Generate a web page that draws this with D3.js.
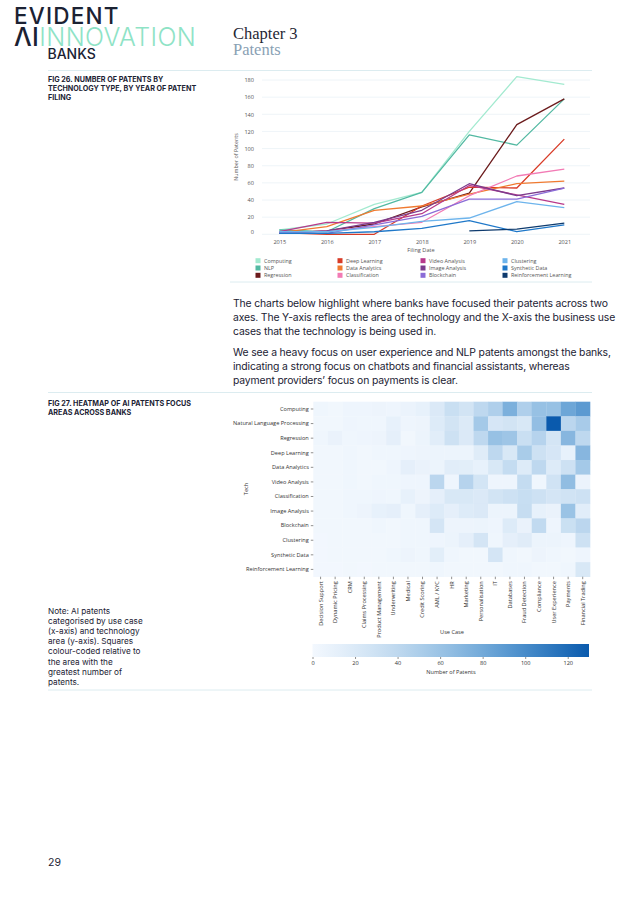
<!DOCTYPE html>
<html lang="en">
<head>
<meta charset="UTF-8">
<title>Chapter 3 - Patents</title>
<script src="https://cdnjs.cloudflare.com/ajax/libs/d3/7.8.5/d3.min.js"></script>
<style>
    html, body { margin: 0; padding: 0; background: #fff; }
    svg { display: block; }
    .sans { font-family: Inter, "Liberation Sans", sans-serif; }
    .plot { font-family: "Open Sans", "Liberation Sans", sans-serif; fill: #444; }
</style>
</head>
<body>
<div id="page"></div>
<script>
    // ---- line chart data (FIG 26) ----
    const years = [2015, 2016, 2017, 2018, 2019, 2020, 2021];
    const techNames = ["Computing", "NLP", "Regression", "Deep Learning", "Data Analytics", "Classification",
        "Video Analysis", "Image Analysis", "Blockchain", "Clustering", "Synthetic Data", "Reinforcement Learning"];
    const techColors = ["#a3ead0", "#52b9a2", "#6b1b1c", "#d83b27", "#f07a30", "#f27bb5",
        "#b8398b", "#7c3b8d", "#8b6cd7", "#6db4ec", "#1f78c9", "#0e3b6e"];
    const computing = [5, 12, 35, 49, 120, 184, 175];
    const nlp = [5, 3, 30, 49, 116, 104, 158];
    const regression = [1, 4, 12, 32, 48, 128, 158];
    const deepLearning = [2, 0, 0, 33, 55, 54, 111];
    const dataAnalytics = [2, 9, 28, 33, 47, 59, 62];
    const classification = [2, 4, 9, 14, 45, 68, 76];
    const videoAnalysis = [3, 14, 13, 24, 57, 46, 35];
    const imageAnalysis = [1, 4, 14, 28, 59, 45, 54];
    const blockchain = [2, 1, 11, 21, 41, 41, 54];
    const clustering = [3, 3, 8, 15, 19, 38, 31];
    const syntheticData = [1, 1, 3, 7, 16, 3, 11];
    const reinforcement = [null, null, null, null, 4, 6, 13];
    const lineSeries = [computing, nlp, regression, deepLearning, dataAnalytics, classification,
        videoAnalysis, imageAnalysis, blockchain, clustering, syntheticData, reinforcement];
    // legend is laid out column by column
    const legendOrder = ["Computing", "NLP", "Regression", "Deep Learning", "Data Analytics", "Classification",
        "Video Analysis", "Image Analysis", "Blockchain", "Clustering", "Synthetic Data", "Reinforcement Learning"];
    const yTicks = [0, 20, 40, 60, 80, 100, 120, 140, 160, 180];

    // ---- heatmap data (FIG 27) ----
    const heatRows = ["Computing", "Natural Language Processing", "Regression", "Deep Learning", "Data Analytics",
        "Video Analysis", "Classification", "Image Analysis", "Blockchain", "Clustering", "Synthetic Data",
        "Reinforcement Learning"];
    const useCases = ["Decision Support", "Dynamic Pricing", "CRM", "Claims Processing", "Product Management",
        "Underwriting", "Medical", "Credit Scoring", "AML / KYC", "HR", "Marketing", "Personalisation", "IT",
        "Databases", "Fraud Detection", "Compliance", "User Experience", "Payments", "Financial Trading"];
    const heatValues = [
        [3, 2, 4, 4, 5, 4, 7, 10, 20, 33, 27, 40, 49, 75, 49, 62, 62, 82, 90],
        [2, 2, 4, 3, 3, 10, 4, 5, 18, 27, 19, 55, 24, 27, 22, 64, 130, 42, 53],
        [3, 8, 3, 4, 5, 12, 2, 6, 15, 30, 20, 40, 62, 58, 33, 45, 25, 70, 40],
        [2, 2, 3, 2, 3, 3, 4, 5, 6, 6, 6, 17, 40, 22, 52, 30, 24, 10, 70],
        [2, 2, 3, 2, 2, 4, 12, 8, 6, 15, 14, 10, 22, 36, 18, 40, 18, 30, 55],
        [2, 2, 3, 2, 3, 3, 4, 4, 42, 4, 45, 26, 4, 4, 36, 3, 28, 65, 7],
        [2, 2, 3, 3, 4, 3, 10, 5, 12, 22, 22, 20, 27, 30, 34, 30, 25, 28, 30],
        [2, 2, 3, 5, 10, 12, 3, 12, 18, 12, 18, 20, 6, 6, 35, 10, 8, 60, 15],
        [2, 2, 2, 2, 3, 2, 3, 3, 25, 5, 5, 6, 4, 18, 8, 38, 4, 32, 42],
        [1, 2, 2, 2, 2, 2, 3, 3, 4, 6, 12, 25, 3, 12, 16, 6, 6, 4, 30],
        [1, 2, 2, 2, 2, 3, 5, 3, 14, 3, 2, 2, 25, 3, 2, 5, 3, 2, 4],
        [1, 1, 2, 1, 2, 2, 2, 2, 3, 2, 2, 2, 2, 3, 3, 2, 2, 3, 22]
    ];
    const colorTicks = [0, 20, 40, 60, 80, 100, 120];

    const W = 638, H = 902;
    const svg = d3.select("#page").append("svg").attr("width", W).attr("height", H);

    // ---------- header ----------
    const logo = svg.append("g").attr("class", "sans");
    logo.append("text").attr("x", 14).attr("y", 24)
        .attr("font-size", 22.5).attr("font-weight", 500).attr("fill", "#1b2233")
        .attr("letter-spacing", 1.2).text("EVIDENT");
    const l2 = logo.append("text").attr("x", 14).attr("y", 45.5)
        .attr("font-size", 25).attr("font-weight", 300).attr("letter-spacing", 0.4);
    l2.append("tspan").attr("fill", "#1b2233").attr("font-weight", 500).text("ΛI");
    l2.append("tspan").attr("fill", "#8fe3c6").text("INNOVATION");
    logo.append("text").attr("x", 47.5).attr("y", 59)
        .attr("font-size", 14).attr("font-weight", 500).attr("fill", "#1b2233").text("BANKS");

    svg.append("text").attr("x", 233).attr("y", 39)
        .attr("font-family", "'Liberation Serif', serif")
        .attr("font-size", 16.5).attr("fill", "#1f2735").text("Chapter 3");
    svg.append("text").attr("x", 233).attr("y", 55)
        .attr("font-family", "'Liberation Serif', serif")
        .attr("font-size", 16.5).attr("fill", "#8aa1b4").text("Patents");

    const rule = (x1, x2, y) => svg.append("line")
        .attr("x1", x1).attr("x2", x2).attr("y1", y).attr("y2", y)
        .attr("stroke", "#dcecf0").attr("stroke-width", 1);
    rule(48, 592, 70.5);

    const figLabel = (lines, y0) => {
        const t = svg.append("text").attr("class", "sans")
            .attr("font-size", 7.2).attr("font-weight", 700).attr("fill", "#1b2233");
        lines.forEach((s, i) => t.append("tspan").attr("x", 48).attr("y", y0 + i * 8.8).text(s));
    };
    figLabel(["FIG 26. NUMBER OF PATENTS BY", "TECHNOLOGY TYPE, BY YEAR OF PATENT", "FILING"], 82);

    // ---------- FIG 26 line chart ----------
    const x = d3.scalePoint().domain(years).range([279.3, 564.3]);
    const y = d3.scaleLinear().domain([0, 180]).range([234.3, 80]);
    const lc = svg.append("g").attr("class", "plot");

    lc.append("g").selectAll("line").data(yTicks).join("line")
        .attr("x1", 262).attr("x2", 590)
        .attr("y1", d => y(d)).attr("y2", d => y(d))
        .attr("stroke", "#eaf1f6").attr("stroke-width", 0.8);

    const yAxis = lc.append("g").attr("transform", "translate(262,0)")
        .call(d3.axisLeft(y).tickValues(yTicks).tickSize(0).tickPadding(8));
    yAxis.select(".domain").remove();
    yAxis.selectAll("text").attr("font-size", 5.6).attr("fill", "#555")
        .attr("font-family", "'Open Sans', sans-serif")
        .attr("dy", d => d === 0 ? "-0.2em" : "0.32em");

    const xAxis = lc.append("g").attr("transform", "translate(0,236)")
        .call(d3.axisBottom(x).tickSize(0).tickPadding(4).tickFormat(d3.format("d")));
    xAxis.select(".domain").remove();
    xAxis.selectAll("text").attr("font-size", 5.6).attr("fill", "#555")
        .attr("font-family", "'Open Sans', sans-serif");

    lc.append("text").attr("transform", "translate(238,157) rotate(-90)")
        .attr("text-anchor", "middle").attr("font-size", 5.4).attr("fill", "#555")
        .text("Number of Patents");
    lc.append("text").attr("x", 421).attr("y", 252)
        .attr("text-anchor", "middle").attr("font-size", 5.6).attr("fill", "#555")
        .text("Filing Date");

    const line = d3.line()
        .defined(d => d != null)
        .x((d, i) => x(years[i]))
        .y(d => y(d));
    lc.append("g").selectAll("path").data(lineSeries).join("path")
        .attr("d", d => line(d))
        .attr("fill", "none")
        .attr("stroke", (d, i) => techColors[i])
        .attr("stroke-width", 1.3)
        .attr("stroke-linejoin", "round");

    // legend: 4 columns x 3 rows
    const legCols = [258, 340, 423, 505];
    const legRows = [260.7, 268, 275.3];
    const leg = lc.append("g").selectAll("g").data(legendOrder).join("g")
        .attr("transform", (d, i) => `translate(${legCols[Math.floor(i / 3)]},${legRows[i % 3]})`);
    leg.append("rect").attr("x", -2.5).attr("y", -2.5).attr("width", 5).attr("height", 5)
        .attr("fill", d => techColors[techNames.indexOf(d)]);
    leg.append("text").attr("x", 6).attr("dy", "0.35em")
        .attr("font-size", 5.4).attr("fill", "#555").text(d => d);

    rule(230, 592, 282);

    // ---------- paragraph ----------
    const para = (lines, y0) => {
        const t = svg.append("text").attr("class", "sans")
            .attr("font-size", 10.4).attr("fill", "#1b2233").attr("letter-spacing", -0.15);
        lines.forEach((s, i) => t.append("tspan").attr("x", 233).attr("y", y0 + i * 14).text(s));
    };
    para(["The charts below highlight where banks have focused their patents across two",
        "axes. The Y-axis reflects the area of technology and the X-axis the business use",
        "cases that the technology is being used in."], 307);
    para(["We see a heavy focus on user experience and NLP patents amongst the banks,",
        "indicating a strong focus on chatbots and financial assistants, whereas",
        "payment providers\u2019 focus on payments is clear."], 356);

    rule(48, 592, 392.5);
    figLabel(["FIG 27. HEATMAP OF AI PATENTS FOCUS", "AREAS ACROSS BANKS"], 406);

    // ---------- FIG 27 heatmap ----------
    const hx = d3.scaleBand().domain(useCases).range([313.3, 590]);
    const hy = d3.scaleBand().domain(heatRows).range([401.7, 576.7]);
    const color = d3.scaleSequential(t => d3.interpolateRgbBasis(
        ["#f3f8fe", "#cde1f3", "#93bfe3", "#4b90cd", "#0a5aad"])(t)).domain([0, 130]);

    const hm = svg.append("g").attr("class", "plot");
    const cells = [];
    heatValues.forEach((row, r) => row.forEach((v, c) => cells.push({ r: heatRows[r], c: useCases[c], v })));
    hm.append("g").selectAll("rect").data(cells).join("rect")
        .attr("x", d => hx(d.c)).attr("y", d => hy(d.r))
        .attr("width", hx.bandwidth() + 0.3).attr("height", hy.bandwidth() + 0.3)
        .attr("fill", d => color(d.v));

    const hyAxis = hm.append("g").attr("transform", "translate(313.3,0)")
        .call(d3.axisLeft(hy).tickSize(2.5).tickPadding(2));
    hyAxis.select(".domain").remove();
    hyAxis.selectAll("line").attr("stroke", "#444").attr("stroke-width", 0.6);
    hyAxis.selectAll("text").attr("font-size", 5.6).attr("fill", "#333")
        .attr("font-family", "'Open Sans', sans-serif");

    const hxAxis = hm.append("g").attr("transform", "translate(0,576.7)")
        .call(d3.axisBottom(hx).tickSize(2.5).tickPadding(2));
    hxAxis.select(".domain").remove();
    hxAxis.selectAll("line").attr("stroke", "#444").attr("stroke-width", 0.6);
    hxAxis.selectAll("text").attr("font-size", 5.6).attr("fill", "#333")
        .attr("font-family", "'Open Sans', sans-serif")
        .attr("transform", "rotate(-90)")
        .attr("text-anchor", "end")
        .attr("x", -4.5).attr("y", 0).attr("dy", "0.35em");

    hm.append("text").attr("transform", "translate(248,489) rotate(-90)")
        .attr("text-anchor", "middle").attr("font-size", 5.6).attr("fill", "#333").text("Tech");
    hm.append("text").attr("x", 452).attr("y", 634)
        .attr("text-anchor", "middle").attr("font-size", 5.6).attr("fill", "#333").text("Use Case");

    // colorbar
    const cbx = d3.scaleLinear().domain([0, 130]).range([312.5, 589]);
    const grad = svg.append("defs").append("linearGradient").attr("id", "cb")
        .attr("x1", "0%").attr("x2", "100%");
    d3.range(0, 1.0001, 0.1).forEach(t => grad.append("stop")
        .attr("offset", `${t * 100}%`).attr("stop-color", color(t * 130)));
    hm.append("rect").attr("x", cbx(0)).attr("y", 644).attr("width", cbx(130) - cbx(0)).attr("height", 13)
        .attr("fill", "url(#cb)");
    const cbAxis = hm.append("g").attr("transform", "translate(0,657)")
        .call(d3.axisBottom(cbx).tickValues(colorTicks).tickSize(2).tickPadding(2));
    cbAxis.select(".domain").remove();
    cbAxis.selectAll("line").attr("stroke", "#444").attr("stroke-width", 0.6);
    cbAxis.selectAll("text").attr("font-size", 5.6).attr("fill", "#333")
        .attr("font-family", "'Open Sans', sans-serif");
    hm.append("text").attr("x", 451).attr("y", 674)
        .attr("text-anchor", "middle").attr("font-size", 5.6).attr("fill", "#333").text("Number of Patents");

    // note
    const note = svg.append("text").attr("class", "sans")
        .attr("font-size", 8.2).attr("fill", "#1b2233");
    ["Note: AI patents", "categorised by use case", "(x-axis) and technology", "area (y-axis). Squares",
        "colour-coded relative to", "the area with the", "greatest number of", "patents."]
        .forEach((s, i) => note.append("tspan").attr("x", 48).attr("y", 614 + i * 10.1).text(s));

    rule(48, 592, 690);

    svg.append("text").attr("class", "sans").attr("x", 48).attr("y", 866)
        .attr("font-size", 10.5).attr("fill", "#1b2233").text("29");
</script>
</body>
</html>
